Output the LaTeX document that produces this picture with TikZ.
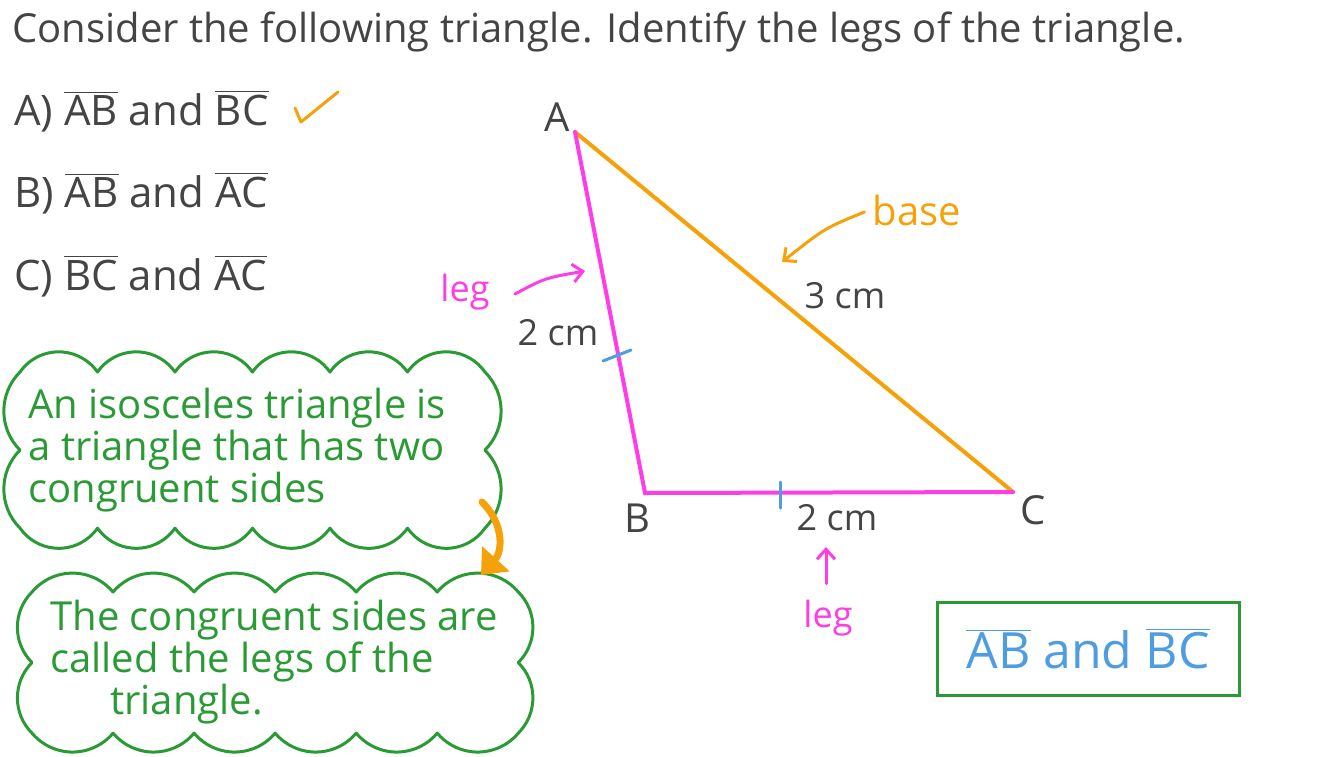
\documentclass[tikz,border=0pt]{standalone}
\usepackage{fontspec}
\setmainfont{Open Sans}
\usetikzlibrary{arrows.meta}

\definecolor{inkgray}{HTML}{444444}
\definecolor{legpink}{HTML}{FF3DE6}
\definecolor{baseorange}{HTML}{F5A20A}
\definecolor{notegreen}{HTML}{2A9A35}
\definecolor{tickblue}{HTML}{4F9DE0}

\tikzset{
	handtext/.style={font=\fontsize{20}{24}\selectfont, text=inkgray, inner sep=0pt},
	notetext/.style={font=\fontsize{20}{21}\selectfont, text=notegreen, inner sep=0pt, align=left},
	notecloud/.style={draw=notegreen, line width=1.5pt, line join=round},
	legline/.style={draw=legpink, line width=2pt, line cap=round},
	baseline/.style={draw=baseorange, line width=2pt, line cap=round},
	marktick/.style={draw=tickblue, line width=1.5pt, line cap=round},
	pointer/.style={line width=1.5pt, line cap=round, -{Straight Barb[length=5pt,width=9pt]}}
}

\begin{document}
\begin{tikzpicture}[x=0.5pt,y=-0.5pt]
	\useasboundingbox (0,0) rectangle (1344,756);

	%question and options
	\node[handtext, anchor=base west] (question) at (12,42)
		{Consider the following triangle. Identify the legs of the triangle.};
	\node[handtext, anchor=base west, font=\fontsize{21}{24}\selectfont] (optA) at (14,125)
		{A) $\overline{\mbox{AB}}$ and $\overline{\mbox{BC}}$};
	\node[handtext, anchor=base west, font=\fontsize{21}{24}\selectfont] (optB) at (14,207)
		{B) $\overline{\mbox{AB}}$ and $\overline{\mbox{AC}}$};
	\node[handtext, anchor=base west, font=\fontsize{21}{24}\selectfont] (optC) at (14,290)
		{C) $\overline{\mbox{BC}}$ and $\overline{\mbox{AC}}$};
	\draw[baseorange, line width=1.5pt, line cap=round, line join=round]
		(295,108) -- (301,122) -- (338,92);		%check mark

	%triangle
	\coordinate (A) at (575,132);
	\coordinate (B) at (645,493);
	\coordinate (C) at (1013,492);
	\draw[baseline] (A) -- (C);		%base
	\draw[legline] (C) -- (B) -- (A);	%legs
		\draw[marktick] (603,361) -- (631,350);		%tick on AB
		\draw[marktick] (780,482) -- (780,508);		%tick on BC

	%vertex labels
	\node[handtext] (labA) at (557,117) {A};
	\node[handtext] (labB) at (637,518) {B};
	\node[handtext] (labC) at (1033,510) {C};

	%lengths
	\node[handtext, font=\fontsize{18}{20}\selectfont] (lenAB) at (558,333) {2 cm};
	\node[handtext, font=\fontsize{18}{20}\selectfont] (lenAC) at (845,296) {3 cm};
	\node[handtext, font=\fontsize{18}{20}\selectfont] (lenBC) at (837,518) {2 cm};

	%side names
	\node[handtext, text=baseorange] (base) at (917,210) {base};
	\node[handtext, text=legpink, font=\fontsize{18}{21}\selectfont] (legL) at (465,292) {leg};
	\node[handtext, text=legpink, font=\fontsize{18}{21}\selectfont] (legR) at (828,618) {leg};
	\coordinate (baseTip) at (782,262);
	\coordinate (legLTip) at (585,271);
	\coordinate (legRTip) at (826,547);
	\draw[pointer, baseorange] (base.west) ++(-8,2) .. controls (825,228) .. (baseTip);
	\draw[pointer, legpink] (legL.east) ++(25,2) .. controls (545,278) .. (legLTip);
	\draw[pointer, legpink] (legR.north) ++(-2,-16) -- (legRTip);

	%notes
	\draw[notecloud] (20,372)
		\foreach \i in {1,...,6} {arc[start angle=215, end angle=325, radius=47.3]}
		\foreach \i in {1,2} {arc[start angle=-45, end angle=45, radius=55.2]}
		\foreach \i in {1,...,6} {arc[start angle=35, end angle=145, radius=47.3]}
		\foreach \i in {1,2} {arc[start angle=135, end angle=225, radius=55.2]} -- cycle;
	\node[notetext, anchor=west] (noteA) at (28,450)
		{An isosceles triangle is\\a triangle that has two\\congruent sides};
	\draw[notecloud] (32,592)
		\foreach \i in {1,...,6} {arc[start angle=220, end angle=320, radius=52.9]}
		\foreach \i in {1,2} {arc[start angle=-45, end angle=45, radius=49.9]}
		\foreach \i in {1,...,6} {arc[start angle=40, end angle=140, radius=52.9]}
		\foreach \i in {1,2} {arc[start angle=135, end angle=225, radius=49.9]} -- cycle;
	\node[notetext, anchor=west] (noteB) at (50,662)
		{The congruent sides are\\called the legs of the\\\hspace*{1.5em}triangle.};
	\draw[baseorange, line width=3.5pt, line cap=round, -{Triangle[length=11pt,width=18pt]}]
		(482,502) .. controls (505,525) and (502,552) .. (481,575);

	%answer
	\node[draw=notegreen, line width=1.5pt, minimum width=151pt, minimum height=46.5pt,
		text=tickblue, font=\fontsize{25}{28}\selectfont] (answer) at (1088,649)
		{$\overline{\mbox{AB}}$ and $\overline{\mbox{BC}}$};
\end{tikzpicture}
\end{document}
